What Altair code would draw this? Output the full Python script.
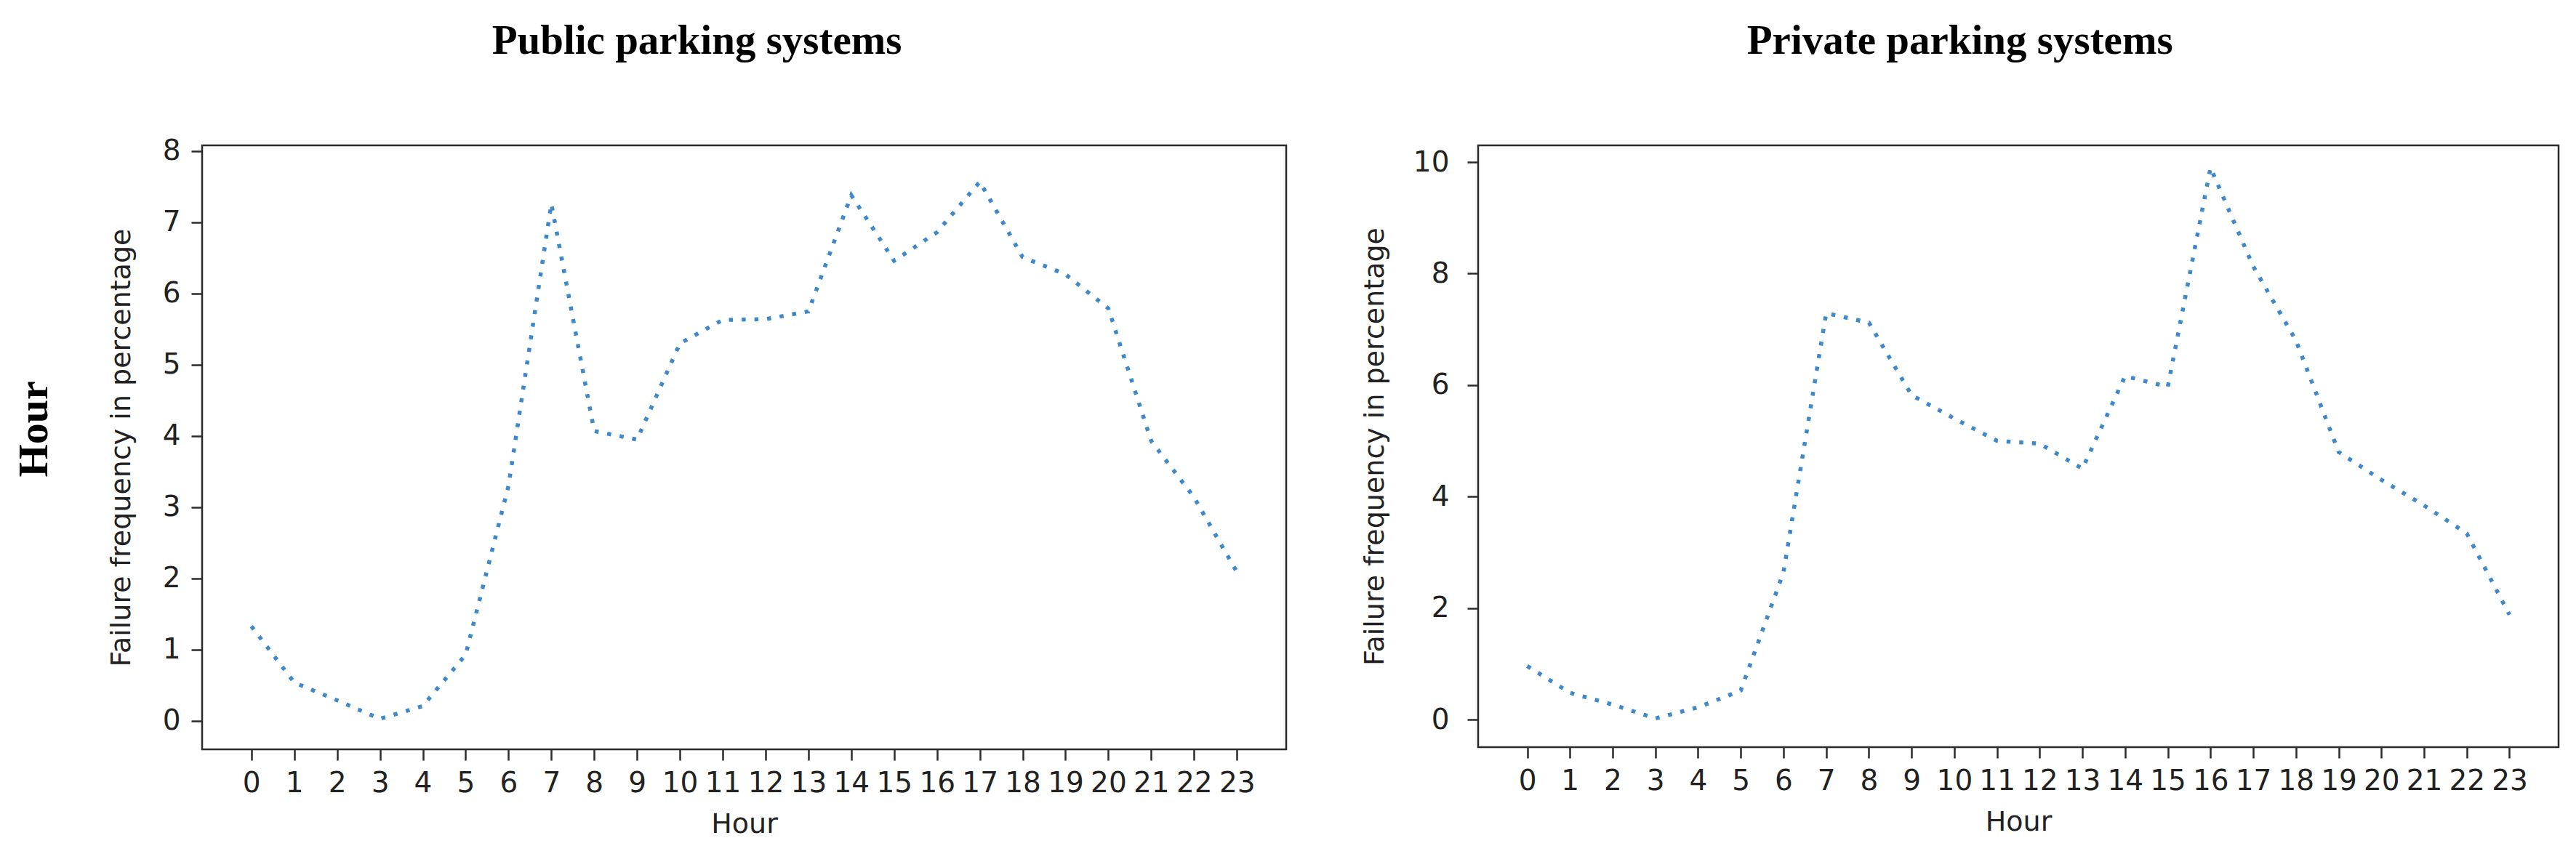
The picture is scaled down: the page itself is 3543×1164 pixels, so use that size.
import altair as alt
import pandas as pd

hours = list(range(24))
public_vals = [1.33, 0.54, 0.29, 0.03, 0.21, 0.93, 3.3, 7.26, 4.07, 3.95, 5.3, 5.63,
               5.64, 5.75, 7.38, 6.46, 6.86, 7.57, 6.51, 6.27, 5.79, 3.93, 3.14, 2.09]
private_vals = [0.96, 0.48, 0.27, 0.02, 0.22, 0.52, 2.64, 7.29, 7.12, 5.82, 5.4, 5.0,
                4.95, 4.5, 6.16, 5.97, 9.9, 8.13, 6.8, 4.8, 4.3, 3.84, 3.34, 1.88]
public_ticks = [0, 1, 2, 3, 4, 5, 6, 7, 8]
private_ticks = [0, 2, 4, 6, 8, 10]

titles = ["Public parking systems", "Private parking systems"]
x_title = "Hour"
y_title = "Failure frequency in percentage"
side_title = "Hour"

LINE_COLOR = "#3f88c9"
SANS = "DejaVu Sans"
SERIF = "Liberation Serif"


def panel(vals, title, ydomain, yticks, w, h, title_offset, label_pad, title_pad):
    df = pd.DataFrame({"Hour": hours, "v": vals})
    return (
        alt.Chart(df)
        .mark_line(color=LINE_COLOR, strokeWidth=5.5, strokeDash=[5.5, 12])
        .encode(
            x=alt.X(
                "Hour:Q",
                scale=alt.Scale(domain=[-1.15, 24.15], nice=False, zero=False),
                axis=alt.Axis(values=hours, title=x_title, labelPadding=12,
                              titlePadding=18, labelFlush=False, format="d"),
            ),
            y=alt.Y(
                "v:Q",
                scale=alt.Scale(domain=ydomain, nice=False, zero=False),
                axis=alt.Axis(values=yticks, title=y_title, labelPadding=label_pad,
                              titlePadding=title_pad, format="d", labelFlush=False),
            ),
        )
        .properties(
            width=w,
            height=h,
            title=alt.TitleParams(
                title, font=SERIF, fontSize=57, fontWeight="bold", color="#000000",
                offset=title_offset, anchor="middle", frame="bounds",
            ),
        )
    )


left = panel(public_vals, titles[0], [-0.398, 8.08], public_ticks, 1491, 831, 103, 15, 37)
right = panel(private_vals, titles[1], [-0.495, 10.30], private_ticks, 1486, 828, 114, 25, 33)

chart = (
    alt.hconcat(left, right, spacing=100)
    .properties(
        padding={"left": 10, "top": 18, "right": 0, "bottom": 0},
        title=alt.TitleParams(
            side_title, orient="left", font=SERIF, fontSize=58, fontWeight="bold",
            color="#000000", anchor="middle", offset=70,
        ),
    )
    .configure_view(stroke="#2b2b2b", strokeWidth=2.5)
    .configure_axis(
        grid=False,
        domain=False,
        tickColor="#2b2b2b",
        tickWidth=2.5,
        tickSize=15,
        labelFont=SANS,
        labelFontSize=39,
        labelColor="#222222",
        titleFont=SANS,
        titleFontSize=38,
        titleFontWeight="normal",
        titleColor="#222222",
    )
)

chart.save("out.html", embed_options={"renderer": "svg", "actions": False})
